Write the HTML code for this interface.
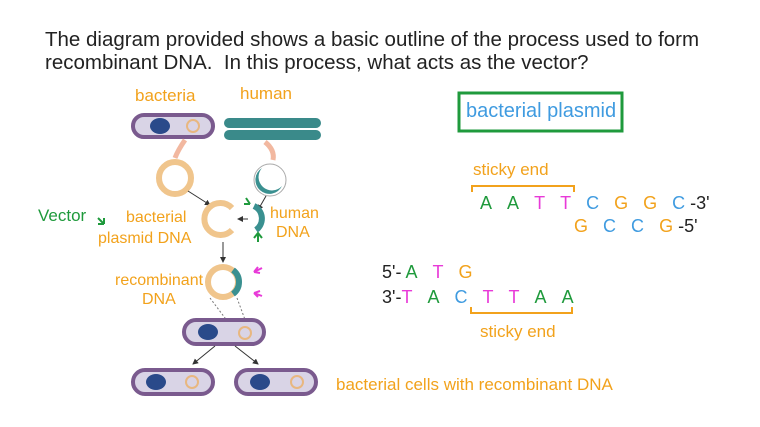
<!DOCTYPE html><html><head><style>
body{margin:0;background:#fff;}
.c{position:relative;width:760px;height:427px;overflow:hidden;font-family:"Liberation Sans",sans-serif;}
.t{position:absolute;white-space:nowrap;}
.o{color:#f2a21c}.g{color:#1f9a3c}.m{color:#e83ad8}.b{color:#3f9be0}.k{color:#222}
</style></head><body><div class="c">
<div class="t k" style="left:45px;top:28px;font-size:20.5px;">The diagram provided shows a basic outline of the process used to form</div>
<div class="t k" style="left:45px;top:51px;font-size:20.5px;">recombinant DNA.&nbsp; In this process, what acts as the vector?</div>
<svg width="760" height="427" style="position:absolute;left:0;top:0">
<defs><marker id="a" markerWidth="6" markerHeight="6" refX="5" refY="3" orient="auto"><path d="M0,0L6,3L0,6z" fill="#333"/></marker></defs>
<rect x="133" y="115" width="80" height="22" rx="11" fill="#d9d4e6" stroke="#7a5a8e" stroke-width="4"/>
<ellipse cx="160" cy="126" rx="10" ry="8" fill="#2a4a8a"/>
<circle cx="193" cy="126" r="6" fill="none" stroke="#e8b780" stroke-width="2"/>
<rect x="224" y="118" width="97" height="10" rx="5" fill="#3a8a8a"/>
<rect x="224" y="130" width="97" height="10" rx="5" fill="#3a8a8a"/>
<path d="M185,140 Q178,150 175,158" stroke="#f2b8a0" stroke-width="5" fill="none"/>
<path d="M265,142 Q275,150 273,160" stroke="#f2b8a0" stroke-width="5" fill="none"/>
<circle cx="175" cy="178" r="16" fill="none" stroke="#f0c58c" stroke-width="6"/>
<circle cx="270" cy="180" r="16" fill="#fff" stroke="#aaa"/>
<path d="M262,168 A14,14 0 1,0 282,186 A10,10 0 1,1 262,168z" fill="#3a9090"/>
<line x1="188" y1="191" x2="210" y2="205" stroke="#333" marker-end="url(#a)"/>
<line x1="266" y1="196" x2="258" y2="210" stroke="#333" marker-end="url(#a)"/>
<path d="M232,208 A16,16 0 1,0 232,230" fill="none" stroke="#f0c58c" stroke-width="6"/>
<path d="M254,206 A14,14 0 0,1 256,230" fill="none" stroke="#3a9090" stroke-width="6"/>
<line x1="248" y1="219" x2="238" y2="219" stroke="#333" marker-end="url(#a)"/>
<line x1="223" y1="242" x2="223" y2="262" stroke="#333" marker-end="url(#a)"/>
<circle cx="223" cy="282" r="15" fill="none" stroke="#f0c58c" stroke-width="6"/>
<path d="M233,270 A15,15 0 0,1 233,294" fill="none" stroke="#3a9090" stroke-width="6"/>
<line x1="210" y1="298" x2="237" y2="334" stroke="#777" stroke-dasharray="2,2"/>
<line x1="237" y1="298" x2="247" y2="325" stroke="#777" stroke-dasharray="2,2"/>
<rect x="184" y="320" width="80" height="24" rx="12" fill="#d9d4e6" stroke="#7a5a8e" stroke-width="4"/>
<ellipse cx="208" cy="332" rx="10" ry="8" fill="#2a4a8a"/>
<circle cx="245" cy="333" r="6" fill="none" stroke="#e8b780" stroke-width="2"/>
<line x1="215" y1="346" x2="193" y2="364" stroke="#333" marker-end="url(#a)"/>
<line x1="235" y1="346" x2="258" y2="364" stroke="#333" marker-end="url(#a)"/>
<rect x="133" y="370" width="80" height="24" rx="12" fill="#d9d4e6" stroke="#7a5a8e" stroke-width="4"/>
<ellipse cx="156" cy="382" rx="10" ry="8" fill="#2a4a8a"/>
<circle cx="192" cy="382" r="6" fill="none" stroke="#e8b780" stroke-width="2"/>
<rect x="236" y="370" width="80" height="24" rx="12" fill="#d9d4e6" stroke="#7a5a8e" stroke-width="4"/>
<ellipse cx="260" cy="382" rx="10" ry="8" fill="#2a4a8a"/>
<circle cx="297" cy="382" r="6" fill="none" stroke="#e8b780" stroke-width="2"/>
<path d="M246,198 l4,6 M250,204 l-6,0" stroke="#1f9a3c" stroke-width="2"/>
<path d="M258,242 l0,-8 M254,238 l4,-5 l4,5" stroke="#1f9a3c" stroke-width="2" fill="none"/>
<path d="M262,268 l-8,4 M254,272 l4,-5 M254,272 l6,1" stroke="#e83ad8" stroke-width="2" fill="none"/>
<path d="M262,296 l-8,-3 M254,293 l6,-2 M254,293 l4,4" stroke="#e83ad8" stroke-width="2" fill="none"/>
<path d="M98,218 l6,6 M104,224 l0,-6 M104,224 l-6,0" stroke="#1f9a3c" stroke-width="2"/>
<rect x="459" y="93" width="163" height="38" fill="none" stroke="#1f9a3c" stroke-width="3"/>
<path d="M472,192 v-6 h102 v6" fill="none" stroke="#f2a21c" stroke-width="2"/>
<path d="M471,307 v6 h101 v-6" fill="none" stroke="#f2a21c" stroke-width="2"/>
</svg>
<div class="t o" style="left:135px;top:86px;font-size:17px;">bacteria</div>
<div class="t o" style="left:240px;top:84px;font-size:17px;">human</div>
<div class="t g" style="left:38px;top:206px;font-size:17px;">Vector</div>
<div class="t o" style="left:126px;top:209px;font-size:16px;">bacterial</div>
<div class="t o" style="left:98px;top:230px;font-size:16px;">plasmid DNA</div>
<div class="t o" style="left:270px;top:205px;font-size:16px;">human</div>
<div class="t o" style="left:276px;top:224px;font-size:16px;">DNA</div>
<div class="t o" style="left:115px;top:272px;font-size:16px;">recombinant</div>
<div class="t o" style="left:142px;top:291px;font-size:16px;">DNA</div>
<div class="t o" style="left:336px;top:375px;font-size:17px;">bacterial cells with recombinant DNA</div>
<div class="t b" style="left:466px;top:100px;font-size:20px;">bacterial plasmid</div>
<div class="t o" style="left:473px;top:160px;font-size:17px;">sticky end</div>
<div class="t" style="left:480px;top:193px;font-size:18px;"><span class="g">A</span>&nbsp;&nbsp;&nbsp;<span class="g">A</span>&nbsp;&nbsp;&nbsp;<span class="m">T</span>&nbsp;&nbsp;&nbsp;<span class="m">T</span>&nbsp;&nbsp;&nbsp;<span class="b">C</span>&nbsp;&nbsp;&nbsp;<span class="o">G</span>&nbsp;&nbsp;&nbsp;<span class="o">G</span>&nbsp;&nbsp;&nbsp;<span class="b">C</span><span class="k"> -3'</span></div>
<div class="t" style="left:574px;top:216px;font-size:18px;"><span class="o">G</span>&nbsp;&nbsp;&nbsp;<span class="b">C</span>&nbsp;&nbsp;&nbsp;<span class="b">C</span>&nbsp;&nbsp;&nbsp;<span class="o">G</span><span class="k"> -5'</span></div>
<div class="t" style="left:382px;top:262px;font-size:18px;"><span class="k">5'-</span> <span class="g">A</span>&nbsp;&nbsp;&nbsp;<span class="m">T</span>&nbsp;&nbsp;&nbsp;<span class="o">G</span></div>
<div class="t" style="left:382px;top:287px;font-size:18px;"><span class="k">3'-</span><span class="m">T</span>&nbsp;&nbsp;&nbsp;<span class="g">A</span>&nbsp;&nbsp;&nbsp;<span class="b">C</span>&nbsp;&nbsp;&nbsp;<span class="m">T</span>&nbsp;&nbsp;&nbsp;<span class="m">T</span>&nbsp;&nbsp;&nbsp;<span class="g">A</span>&nbsp;&nbsp;&nbsp;<span class="g">A</span></div>
<div class="t o" style="left:480px;top:322px;font-size:17px;">sticky end</div>
</div></body></html>
